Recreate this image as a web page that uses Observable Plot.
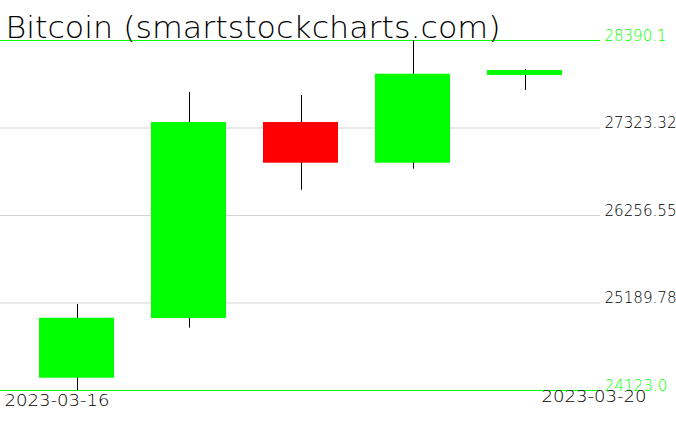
<!DOCTYPE html>
<html>
<head>
<meta charset="utf-8">
<script src="https://cdn.jsdelivr.net/npm/d3@7"></script>
<script src="https://cdn.jsdelivr.net/npm/@observablehq/plot@0.6"></script>
<style>
  html, body { margin: 0; padding: 0; background: #fff; }
  #chart svg { display: block; }
</style>
</head>
<body>
<div id="chart"></div>
<script>
const title = "Bitcoin (smartstockcharts.com)";
const dates = ["2023-03-16", "2023-03-17", "2023-03-18", "2023-03-19", "2023-03-20"];
const open  = [24273, 25000, 27390, 26894, 27963];
const close = [25004, 27390, 26894, 27979, 28024];
const high  = [25171, 27756, 27720, 28390.1, 28037];
const low   = [24123, 24883, 26565, 26821, 27780];
const yTicks = [24123.0, 25189.78, 26256.55, 27323.32, 28390.1];
const yTickLabels = ["24123.0", "25189.78", "26256.55", "27323.32", "28390.1"];
const xLabels = ["2023-03-16", "2023-03-20"];

const GREEN = "#00ff00", RED = "#ff0000";
const candles = dates.map((d, i) => ({date: d, open: open[i], close: close[i], high: high[i], low: low[i]}));
const ticks = yTicks.map((v, i) => ({v, label: yTickLabels[i], edge: i === 0 || i === yTicks.length - 1}));
const FONT = "'DejaVu Sans', sans-serif";

const chart = Plot.plot({
  width: 676,
  height: 431,
  marginTop: 40,
  marginBottom: 41,
  marginLeft: 0,
  marginRight: 76,
  style: {fontFamily: FONT, background: "#fff", overflow: "visible"},
  x: {type: "band", domain: dates, range: [37.5, 562.5], paddingInner: 1/3, paddingOuter: 0, axis: null},
  y: {domain: [yTicks[0], yTicks[yTicks.length - 1]], axis: null},
  marks: [
    Plot.ruleY(ticks, {y: "v", stroke: d => d.edge ? GREEN : "#d3d3d3", strokeWidth: 1}),
    Plot.ruleX(candles, {x: "date", y1: "low", y2: "high", dx: 0.5, stroke: "#000", strokeWidth: 1}),
    Plot.barY(candles, {x: "date", y1: "open", y2: "close", fill: d => d.close >= d.open ? GREEN : RED}),
    Plot.text(ticks, {y: "v", text: "label", frameAnchor: "right", lineAnchor: "middle", textAnchor: "start", dx: 4, dy: -5,
      fill: d => d.edge ? GREEN : "#000", fontSize: 16, fontWeight: 200}),
    Plot.text([xLabels[0]], {frameAnchor: "bottom-left", lineAnchor: "middle", textAnchor: "start", dx: 4, dy: 10.5, fill: "#000", fontSize: 16, fontWeight: 200}),
    Plot.text([xLabels[1]], {frameAnchor: "bottom-right", lineAnchor: "middle", textAnchor: "end", dx: 46, dy: 6.5, fill: "#000", fontSize: 16, fontWeight: 200}),
    Plot.text([title], {frameAnchor: "top-left", lineAnchor: "middle", textAnchor: "start", dx: 5, dy: -12, fill: "#000", fontSize: 31, fontWeight: 200})
  ]
});

// fit text widths to the reference's stroke font
const widths = {
  "Bitcoin (smartstockcharts.com)": 495,
  "24123.0": 63, "25189.78": 72, "26256.55": 72, "27323.32": 72, "28390.1": 62,
  "2023-03-16": 105, "2023-03-20": 105
};
d3.select(chart).selectAll("text").each(function() {
  const t = this.textContent;
  if (widths[t]) {
    this.setAttribute("textLength", widths[t]);
    this.setAttribute("lengthAdjust", "spacingAndGlyphs");
  }
});
document.getElementById("chart").appendChild(chart);
</script>
</body>
</html>
